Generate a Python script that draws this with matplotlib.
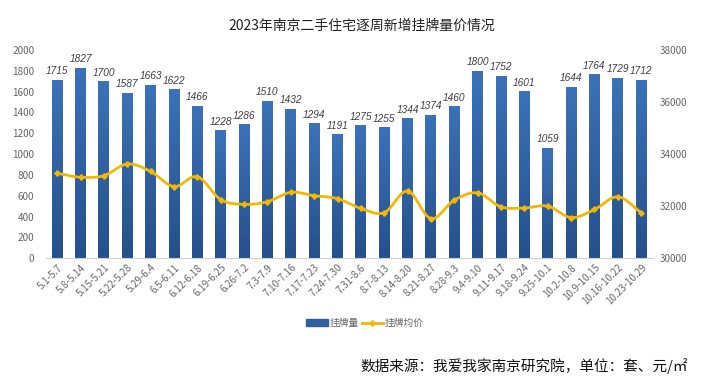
import numpy as np
import matplotlib
matplotlib.use("Agg")
import matplotlib.pyplot as plt
from matplotlib.lines import Line2D
from matplotlib.patches import Patch

plt.rcParams['font.family'] = ['Noto Sans CJK SC', 'DejaVu Sans']

weeks = ["5.1-5.7", "5.8-5.14", "5.15-5.21", "5.22-5.28", "5.29-6.4", "6.5-6.11",
         "6.12-6.18", "6.19-6.25", "6.26-7.2", "7.3-7.9", "7.10-7.16", "7.17-7.23",
         "7.24-7.30", "7.31-8.6", "8.7-8.13", "8.14-8.20", "8.21-8.27", "8.28-9.3",
         "9.4-9.10", "9.11-9.17", "9.18-9.24", "9.25-10.1", "10.2-10.8", "10.9-10.15",
         "10.16-10.22", "10.23-10.29"]
listings = [1715, 1827, 1700, 1587, 1663, 1622, 1466, 1228, 1286, 1510, 1432, 1294,
            1191, 1275, 1255, 1344, 1374, 1460, 1800, 1752, 1601, 1059, 1644, 1764,
            1729, 1712]
avg_price = [33260, 33110, 33170, 33620, 33330, 32750, 33130, 32250, 32070, 32170,
             32530, 32400, 32290, 31910, 31750, 32580, 31520, 32230, 32510, 31970,
             31930, 32000, 31560, 31870, 32360, 31750]

left_ticks = list(range(0, 2001, 200))
right_ticks = list(range(30000, 38001, 2000))


def smooth(x, y, n=20):
    # catmull-rom through the points, like excel's smoothed line
    x = np.asarray(x, float)
    y = np.asarray(y, float)
    px = np.concatenate([[2 * x[0] - x[1]], x, [2 * x[-1] - x[-2]]])
    py = np.concatenate([[2 * y[0] - y[1]], y, [2 * y[-1] - y[-2]]])
    xs, ys = [], []
    t = np.linspace(0, 1, n, endpoint=False)
    for i in range(1, len(px) - 2):
        for p, out in ((px, xs), (py, ys)):
            p0, p1, p2, p3 = p[i - 1], p[i], p[i + 1], p[i + 2]
            out.extend(0.5 * (2 * p1 + (-p0 + p2) * t + (2 * p0 - 5 * p1 + 4 * p2 - p3) * t ** 2
                              + (-p0 + 3 * p1 - 3 * p2 + p3) * t ** 3))
    xs.append(x[-1])
    ys.append(y[-1])
    return np.array(xs), np.array(ys)


fig = plt.figure(figsize=(7.23, 3.9), dpi=100)
ax = fig.add_axes([0.063, 0.338, 0.84, 0.534])
ax2 = ax.twinx()

x = np.arange(len(weeks))
bars = ax.bar(x, listings, width=0.47, color='#2f5f9e', zorder=2)

# vertical gradient inside each bar
grad = np.linspace(0, 1, 100).reshape(-1, 1)
cmap = matplotlib.colors.LinearSegmentedColormap.from_list('b', ['#25508c', '#3b72b8'])
for b in bars:
    im = ax.imshow(grad, cmap=cmap, aspect='auto', origin='lower', zorder=2,
                   extent=[b.get_x(), b.get_x() + b.get_width(), 0, b.get_height()])
    im.set_clip_path(b)

for xi, v in zip(x, listings):
    ax.text(xi, v + 35, str(v), ha='center', va='bottom', fontsize=7.3,
            style='italic', color='#404040', family=['Liberation Sans'])

sx, sy = smooth(x, avg_price)
ax2.plot(sx, sy, color='#f2b705', lw=2, zorder=3)
ax2.plot(x, avg_price, ls='none', marker='P', ms=3.5, color='#f2b705', zorder=4)

ax.set_xlim(-0.5, len(weeks) - 0.5)
ax.set_ylim(0, 2000)
ax2.set_ylim(30000, 38000)
ax.set_yticks(left_ticks)
ax2.set_yticks(right_ticks)
ax.set_xticks(x)
ax.set_xticklabels(weeks, rotation=45, ha='right', rotation_mode='anchor')

for a in (ax, ax2):
    for s in a.spines.values():
        s.set_visible(False)
    a.tick_params(length=0, labelsize=7.2, colors='#666666')
ax.spines['bottom'].set_visible(True)
ax.spines['bottom'].set_color('#d0d0d0')
ax.tick_params(axis='x', pad=3, labelsize=7)
ax.tick_params(axis='y', pad=8)
ax2.tick_params(axis='y', pad=5)

fig.text(0.5, 0.935, "2023年南京二手住宅逐周新增挂牌量价情况", ha='center', va='center',
         fontsize=10, color='#222222')

handles = [Patch(color='#2f5f9e'),
           Line2D([], [], color='#f2b705', lw=2, marker='P', ms=3.5)]
fig.legend(handles, ["挂牌量", "挂牌均价"], loc='center', bbox_to_anchor=(0.505, 0.172),
           ncol=2, frameon=False, fontsize=7, labelcolor='#666666',
           handlelength=2.2, handletextpad=0.2, columnspacing=0.3)

fig.text(0.952, 0.062, "数据来源：我爱我家南京研究院，单位：套、元/㎡", ha='right', va='center',
         fontsize=10.5, color='#111111')

fig.savefig("out.png", dpi=100)
